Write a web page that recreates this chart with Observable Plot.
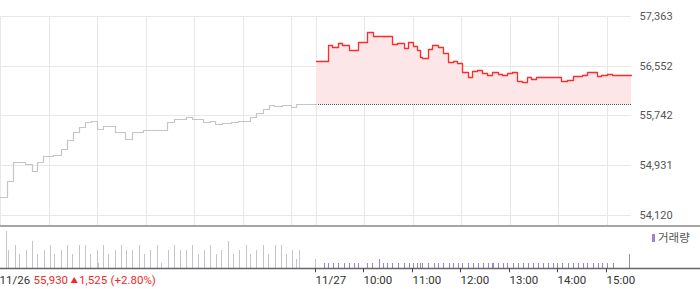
<!DOCTYPE html>
<html>
<head>
<meta charset="utf-8">
<script src="https://cdn.jsdelivr.net/npm/d3@7"></script>
<script src="https://cdn.jsdelivr.net/npm/@observablehq/plot@0.6"></script>
<style>
  html, body { margin: 0; padding: 0; background: #fff; }
  #wrap { position: relative; width: 700px; height: 289px; overflow: hidden;
          font-family: Roboto, "Noto Sans CJK KR", sans-serif; }
  #main { position: absolute; left: 0; top: 0; }
  #vol { position: absolute; left: 0; top: 225px; }
  #legend { position: absolute; left: 652px; top: 230px; height: 14px; font-size: 11.5px;
            line-height: 14px; color: #555; white-space: nowrap; font-family: "Noto Sans CJK KR", sans-serif; }
  #legend i { display: inline-block; width: 3px; height: 8px; background: #9b83cf;
              margin-right: 3px; vertical-align: 0px; }
  svg { display: block; }
</style>
</head>
<body>
<div id="wrap">
  <div id="main"></div>
  <div id="vol"></div>
  <div id="legend"><i></i><span></span></div>
</div>
<script>
// ---- Data ----
const dayLabels = ["11/26", "11/27"];
const prevClose = 55930;
const priceTicks = [54120, 54931, 55742, 56552, 57363];

// 11/26 (previous day) price, step line
const prevTimes = ["09:00","09:09","09:16","09:31","09:39","09:46","09:53","10:05","10:16","10:23",
  "10:30","10:38","10:45","10:52","11:00","11:07","11:22","11:35","11:43","11:57",
  "12:26","12:35","12:50","12:57","13:11","13:19","13:26","13:34","13:46","13:54",
  "14:02","14:09","14:17","14:25","14:32","14:39","14:48","15:00","15:06","15:30"];
const prevPrices = [54410,54675,54980,54950,54840,54980,55085,55095,55200,55335,
  55465,55550,55635,55650,55525,55570,55470,55355,55480,55500,
  55635,55690,55710,55680,55640,55660,55610,55620,55635,55645,
  55650,55725,55780,55855,55910,55900,55920,55885,55930,55930];

// 11/27 (today) price, step line
const todayTimes = ["09:00","09:15","09:21","09:28","09:33","09:41","09:53","10:04","10:11","10:17",
  "10:23","10:34","10:41","10:49","10:54","11:01","11:06","11:09","11:12","11:19",
  "11:24","11:31","11:37","11:44","11:50","11:55","12:01","12:08","12:14","12:20",
  "12:26","12:32","12:38","12:45","12:51","12:57","13:03","13:09","13:15","13:22",
  "13:27","13:33","14:04","14:11","14:18","14:30","14:36","14:48","14:53","15:00",
  "15:07","15:30"];
const todayPrices = [56635,56895,56860,56915,56890,56815,56940,57095,57040,57045,
  57035,56905,56920,56835,56940,56880,56810,56700,56675,56820,
  56890,56850,56760,56610,56630,56605,56450,56375,56460,56480,
  56435,56405,56450,56425,56400,56435,56455,56305,56285,56365,
  56340,56365,56300,56320,56385,56400,56450,56385,56400,56415,
  56405,56405];

// volume (relative units)
const prevVolTimes = ["09:08","09:10","09:18","09:24","09:32","09:40","09:46","09:55","10:02","10:07",
  "10:16","10:23","10:29","10:38","10:45","10:51","11:00","11:01","11:07","11:14",
  "11:22","11:30","11:36","11:43","11:52","11:58","12:05","12:14","12:19","12:28",
  "12:35","12:42","12:50","12:57","13:05","13:12","13:19","13:27","13:33","13:42",
  "13:48","13:55","14:04","14:09","14:17","14:25","14:31","14:40","14:47","14:53",
  "15:01","15:06","15:09","15:29"];
const prevVolumes = [370,180,230,140,180,270,140,180,230,140,
  180,230,140,230,230,140,180,50,230,140,
  180,230,180,180,230,140,180,230,50,180,
  230,180,180,230,140,180,230,140,180,270,
  140,180,230,140,180,230,140,230,230,140,
  180,90,180,90];
const todayVolTimes = ["09:10","09:16","09:22","09:28","09:35","09:41","09:47","09:53","10:04","10:10",
  "10:18","10:24","10:29","10:35","10:42","10:49","10:55","11:00","11:06","11:09",
  "11:12","11:19","11:26","11:32","11:38","11:45","11:50","11:56","12:01","12:09",
  "12:15","12:21","12:27","12:33","12:38","12:40","12:46","12:52","12:57","13:04",
  "13:10","13:17","13:23","13:29","13:35","13:41","13:48","13:54","13:59","14:05",
  "14:12","14:18","14:25","14:31","14:36","14:43","14:49","14:54","15:00","15:08",
  "15:27"];
const todayVolumes = [50,50,50,50,50,50,50,50,50,50,
  95,50,50,50,50,50,50,50,50,50,
  50,50,50,50,50,50,50,50,50,50,
  50,50,50,50,50,50,50,50,50,50,
  50,50,50,50,50,50,50,50,50,50,
  50,50,50,50,50,50,50,50,50,50,
  145];

const hourTimes = ["09:00","10:00","11:00","12:00","13:00","14:00","15:00"];
const axisTickDays = [0, 1, 1, 1, 1, 1, 1, 1];
const axisTickTimes = ["09:00","09:00","10:00","11:00","12:00","13:00","14:00","15:00"];
const axisTickLabels = ["11/26","11/27","10:00","11:00","12:00","13:00","14:00","15:00"];

const captionPrice = "55,930";
const captionArrow = "▲";
const captionChange = "1,525";
const captionPct = "(+2.80%)";
const legendLabel = "거래량";

// ---- Build tables ----
const SESSION = 390; // minutes 09:00-15:30
const toM = (day, t) => { const [h, mm] = t.split(":").map(Number); return day * SESSION + (h - 9) * 60 + mm; };
const prevLine = prevTimes.map((t, i) => ({m: toM(0, t), p: prevPrices[i]}));
const todayLine = todayTimes.map((t, i) => ({m: toM(1, t), p: todayPrices[i]}));
const prevVol = prevVolTimes.map((t, i) => ({m: toM(0, t), v: prevVolumes[i]}));
const todayVol = todayVolTimes.map((t, i) => ({m: toM(1, t), v: todayVolumes[i]}));
const gridM = [0, 1].flatMap(d => hourTimes.map(t => toM(d, t)));
const axisTicks = axisTickTimes.map((t, i) => ({m: toM(axisTickDays[i], t), label: axisTickLabels[i]}));
const labelOf = new Map(axisTicks.map(d => [d.m, d.label]));

const W = 700, PLOT_RIGHT = 631;
const xMax = 2 * SESSION;
const font = 'Roboto, "Noto Sans CJK KR", sans-serif';

// ---- Main price chart ----
const main = Plot.plot({
  width: W, height: 225,
  marginLeft: 0, marginRight: W - PLOT_RIGHT, marginTop: 16, marginBottom: 0,
  style: {fontFamily: font, fontSize: "11px", color: "#555", background: "transparent"},
  x: {domain: [0, xMax], round: true, axis: null},
  y: {domain: [priceTicks[0], priceTicks[priceTicks.length - 1]], range: [215, 16], round: true},
  marks: [
    Plot.gridY(priceTicks, {stroke: "#e8e8e8", strokeOpacity: 1}),
    Plot.gridX(gridM, {stroke: "#e8e8e8", strokeOpacity: 1}),
    Plot.areaY(todayLine, {x: "m", y1: prevClose, y2: "p", curve: "step-after", fill: "#fde6e8"}),
    Plot.ruleY([prevClose], {x1: SESSION, x2: xMax, stroke: "#555", strokeDasharray: "1,1"}),
    Plot.line(prevLine, {x: "m", y: "p", curve: "step-after", stroke: "#c4c4cc", strokeWidth: 1.2}),
    Plot.line(todayLine, {x: "m", y: "p", curve: "step-after", stroke: "#ff2b2b", strokeWidth: 1.3}),
    Plot.axisY(priceTicks, {anchor: "right", label: null, tickSize: 0, tickPadding: 8,
      tickFormat: d3.format(","), fill: "#555"})
  ]
});
document.getElementById("main").append(main);

// ---- Volume panel ----
const VH = 64, BASE = 43.3;
const red = "#ee2c2c";
const cap = (text, dx, size, dy = 7) => Plot.text([text], {frameAnchor: "bottom-left", lineAnchor: "top",
  textAnchor: "start", dx, dy, fill: red, fontSize: size});
const vol = Plot.plot({
  width: W, height: VH,
  marginLeft: 0, marginRight: 0, marginTop: 0.5, marginBottom: VH - BASE,
  style: {fontFamily: font, fontSize: "11.5px", color: "#333", background: "transparent", overflow: "visible"},
  x: {domain: [0, xMax * W / PLOT_RIGHT], round: true},
  y: {domain: [0, 400], range: [BASE, BASE - 40], round: true, axis: null},
  marks: [
    Plot.frame({anchor: "top", stroke: "#888", strokeWidth: 1.4}),
    Plot.ruleX(prevVol, {x: "m", y1: 0, y2: "v", stroke: "#c4c4cc"}),
    Plot.ruleX(todayVol, {x: "m", y1: 0, y2: "v", stroke: "#9b83cf"}),
    Plot.ruleY([0], {stroke: "#666", strokeWidth: 1.3}),
    Plot.axisX(axisTicks.map(d => d.m), {label: null, tickSize: 4, tickPadding: 3, textAnchor: "start", dx: -1,
      tickFormat: m => labelOf.get(m), stroke: "#444", fill: "#333"}),
    cap(captionPrice, 33, 11.5),
    cap(captionArrow, 70, 7.5, 8.5),
    cap(captionChange, 78.5, 11.5),
    cap(captionPct, 110, 11.5)
  ]
});
document.getElementById("vol").append(vol);
document.querySelector("#legend span").textContent = legendLabel;
</script>
</body>
</html>
